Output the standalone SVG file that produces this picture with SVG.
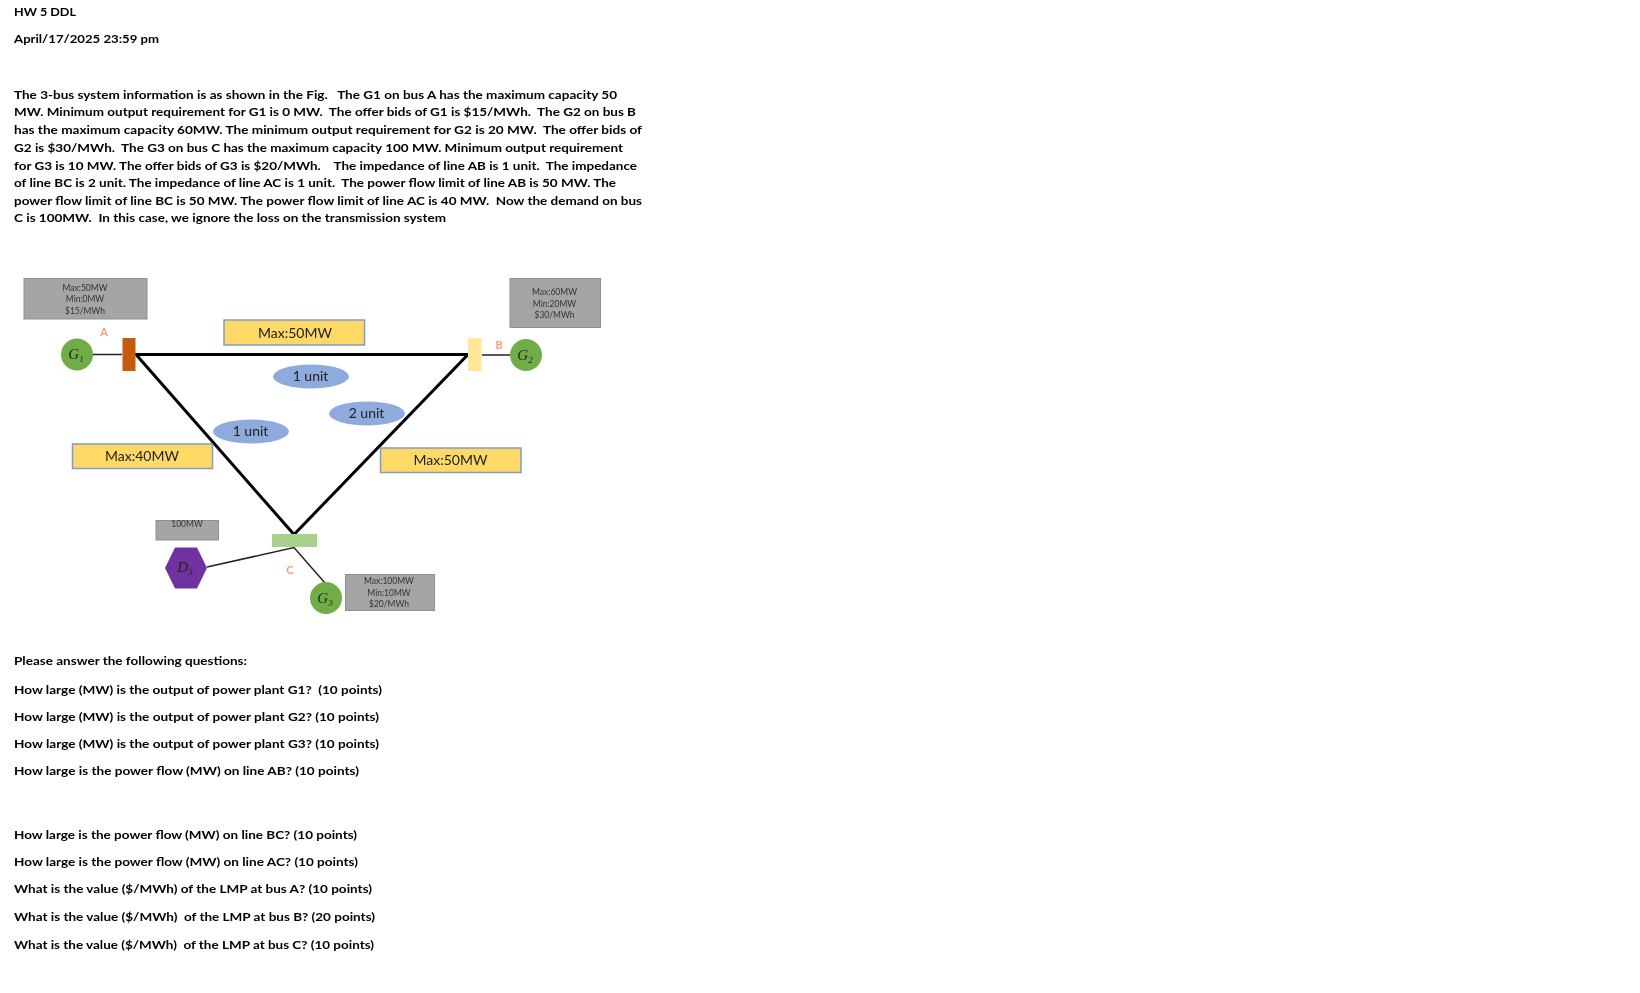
<svg xmlns="http://www.w3.org/2000/svg" width="1640" height="993" viewBox="0 0 1640 993">
<defs>
<filter id="soft" x="-5%" y="-5%" width="110%" height="110%"><feGaussianBlur stdDeviation="0.6"/></filter>
</defs>
<style>
.t{font-family:Lato,"Liberation Sans",sans-serif;font-weight:700;font-size:11.5px;fill:#000}
.box{fill:#A5A5A5;stroke:#8f8f8f;stroke-width:1}
.bt{font-family:Lato,"Liberation Sans",sans-serif;font-size:8.5px;fill:#333;text-anchor:middle}
.y{fill:#FFD966;stroke:#7f9bcf;stroke-width:1.5}
.yt{font-family:Lato,"Liberation Sans",sans-serif;font-size:14px;fill:#222;text-anchor:middle}
.e{fill:#8FAADC}
.g{fill:#70AD47}
.m{font-family:"Liberation Serif",serif;font-style:italic;font-size:15px;fill:#1c2a10;text-anchor:middle}
.sub{font-size:9px}
.l{font-family:Lato,"Liberation Sans",sans-serif;font-weight:700;font-size:11px;fill:#F4A070;text-anchor:middle}
.main{stroke:#000;stroke-width:3;fill:none}
.thin{stroke:#222;stroke-width:1.5;fill:none}
</style>
<rect width="1640" height="993" fill="#fff"/>
<g filter="url(#soft)">
<g id="text-header">
<text class="t" x="14" y="16" textLength="62" lengthAdjust="spacingAndGlyphs">HW 5 DDL</text>
<text class="t" x="14" y="43" textLength="145" lengthAdjust="spacingAndGlyphs">April/17/2025 23:59 pm</text>
</g>
<g id="text-body">
<text class="t" x="14" y="98.500" textLength="603" lengthAdjust="spacingAndGlyphs" xml:space="preserve">The 3-bus system information is as shown in the Fig.   The G1 on bus A has the maximum capacity 50</text>
<text class="t" x="14" y="116" textLength="622" lengthAdjust="spacingAndGlyphs" xml:space="preserve">MW. Minimum output requirement for G1 is 0 MW.  The offer bids of G1 is $15/MWh.  The G2 on bus B</text>
<text class="t" x="14" y="134" textLength="628" lengthAdjust="spacingAndGlyphs" xml:space="preserve">has the maximum capacity 60MW. The minimum output requirement for G2 is 20 MW.  The offer bids of</text>
<text class="t" x="14" y="152" textLength="609" lengthAdjust="spacingAndGlyphs" xml:space="preserve">G2 is $30/MWh.  The G3 on bus C has the maximum capacity 100 MW. Minimum output requirement</text>
<text class="t" x="14" y="169.500" textLength="623" lengthAdjust="spacingAndGlyphs" xml:space="preserve">for G3 is 10 MW. The offer bids of G3 is $20/MWh.    The impedance of line AB is 1 unit.  The impedance</text>
<text class="t" x="14" y="187" textLength="602" lengthAdjust="spacingAndGlyphs" xml:space="preserve">of line BC is 2 unit. The impedance of line AC is 1 unit.  The power flow limit of line AB is 50 MW. The</text>
<text class="t" x="14" y="204.500" textLength="628" lengthAdjust="spacingAndGlyphs" xml:space="preserve">power flow limit of line BC is 50 MW. The power flow limit of line AC is 40 MW.  Now the demand on bus</text>
<text class="t" x="14" y="222" textLength="432" lengthAdjust="spacingAndGlyphs" xml:space="preserve">C is 100MW.  In this case, we ignore the loss on the transmission system</text>
</g>
<g id="connectors">
<path class="main" d="M136 354.500H468L294 534.500Z"/>
<path class="thin" d="M92 354.500H122M482 355H510M207 567L294 547.600L325 583"/>
</g>
<g id="bus-a"><rect x="122.500" y="338" width="13" height="33" fill="#C55A11"/><text class="l" x="104" y="336">A</text></g>
<g id="bus-b"><rect x="468" y="338" width="13.500" height="33" fill="#FFE699"/><text class="l" x="499" y="349">B</text></g>
<g id="bus-c"><rect x="272" y="534" width="45" height="13" fill="#A9D18E"/><text class="l" x="290" y="574">C</text></g>
<g id="g1"><circle class="g" cx="77" cy="354.500" r="16"/><text class="m" x="76" y="359">G<tspan class="sub" dy="3">1</tspan></text></g>
<g id="g2"><circle class="g" cx="526" cy="355" r="16"/><text class="m" x="525" y="360">G<tspan class="sub" dy="3">2</tspan></text></g>
<g id="g3"><circle class="g" cx="326" cy="598" r="16"/><text class="m" x="325" y="603">G<tspan class="sub" dy="3">3</tspan></text></g>
<g id="d3"><polygon points="165,568 175,547.500 197,547.500 207,568 197,588.500 175,588.500" fill="#7030A0"/><text class="m" x="185" y="572">D<tspan class="sub" dy="3">3</tspan></text></g>
<g id="g1-info"><rect class="box" x="24" y="278.500" width="123" height="40.500"/><text class="bt" x="85" y="291">Max:50MW</text><text class="bt" x="85" y="302">Min:0MW</text><text class="bt" x="85" y="314">$15/MWh</text></g>
<g id="g2-info"><rect class="box" x="510" y="278.500" width="90.500" height="49"/><text class="bt" x="554.500" y="295">Max:60MW</text><text class="bt" x="554.500" y="307">Min:20MW</text><text class="bt" x="554.500" y="318">$30/MWh</text></g>
<g id="g3-info"><rect class="box" x="345.500" y="574.500" width="89" height="36"/><text class="bt" x="389" y="584">Max:100MW</text><text class="bt" x="389" y="596">Min:10MW</text><text class="bt" x="389" y="607">$20/MWh</text></g>
<g id="d3-info"><rect class="box" x="156" y="520.500" width="62.500" height="19.500"/><text class="bt" x="187" y="527">100MW</text></g>
<g id="limit-ab"><rect class="y" x="224" y="320" width="140.500" height="25"/><text class="yt" x="295" y="337.500">Max:50MW</text></g>
<g id="limit-ac"><rect class="y" x="72.500" y="444" width="140" height="24.500"/><text class="yt" x="142" y="461">Max:40MW</text></g>
<g id="limit-bc"><rect class="y" x="380.500" y="448" width="140.500" height="24.500"/><text class="yt" x="450.500" y="465">Max:50MW</text></g>
<g id="z-ab"><ellipse class="e" cx="311" cy="376.500" rx="38" ry="12"/><text class="yt" x="310.500" y="381">1 unit</text></g>
<g id="z-bc"><ellipse class="e" cx="367" cy="413.500" rx="38" ry="12"/><text class="yt" x="366.500" y="418">2 unit</text></g>
<g id="z-ac"><ellipse class="e" cx="251" cy="431.500" rx="38" ry="12"/><text class="yt" x="250.500" y="436">1 unit</text></g>
<g id="text-questions">
<text class="t" x="14" y="664.500" textLength="233" lengthAdjust="spacingAndGlyphs">Please answer the following questions:</text>
<text class="t" x="14" y="693.500" textLength="368" lengthAdjust="spacingAndGlyphs" xml:space="preserve">How large (MW) is the output of power plant G1?  (10 points)</text>
<text class="t" x="14" y="720.500" textLength="365" lengthAdjust="spacingAndGlyphs">How large (MW) is the output of power plant G2? (10 points)</text>
<text class="t" x="14" y="748" textLength="365" lengthAdjust="spacingAndGlyphs">How large (MW) is the output of power plant G3? (10 points)</text>
<text class="t" x="14" y="775" textLength="345" lengthAdjust="spacingAndGlyphs">How large is the power flow (MW) on line AB? (10 points)</text>
<text class="t" x="14" y="839" textLength="343" lengthAdjust="spacingAndGlyphs">How large is the power flow (MW) on line BC? (10 points)</text>
<text class="t" x="14" y="866" textLength="344" lengthAdjust="spacingAndGlyphs">How large is the power flow (MW) on line AC? (10 points)</text>
<text class="t" x="14" y="893" textLength="358" lengthAdjust="spacingAndGlyphs">What is the value ($/MWh) of the LMP at bus A? (10 points)</text>
<text class="t" x="14" y="921" textLength="361" lengthAdjust="spacingAndGlyphs" xml:space="preserve">What is the value ($/MWh)  of the LMP at bus B? (20 points)</text>
<text class="t" x="14" y="949" textLength="360" lengthAdjust="spacingAndGlyphs" xml:space="preserve">What is the value ($/MWh)  of the LMP at bus C? (10 points)</text>
</g>
</g>
</svg>
